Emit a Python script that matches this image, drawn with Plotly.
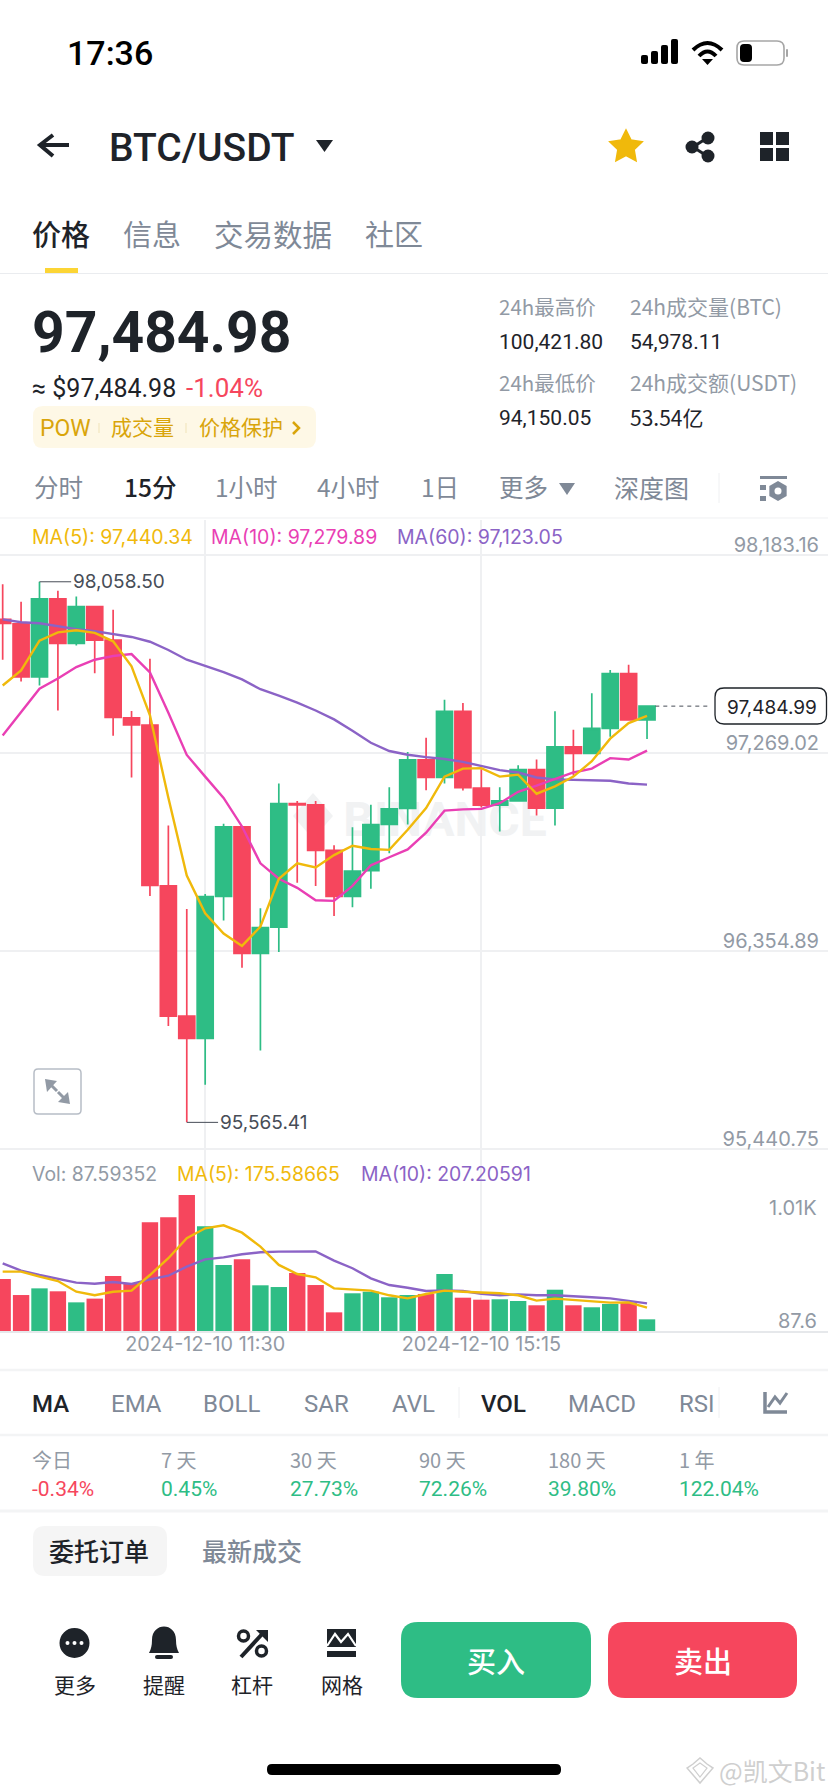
import math
import plotly.graph_objects as go

# ---------- data ----------
candle_index = list(range(36))
opens = [97885,97865,97620,97980,97774,97944,97789,97431,97397,96656,96055,95953,96607,96928,96345,96466,
         97035,97030,96820,96607,96726,96939,97013,97237,97156,97461,97107,97028,97048,97192,97015,97297,
         97267,97382,97635,97422]
highs = [98047,97966,98058.5,98017,97991,97944,97929,97463,97703,96934,96549,96619,96943,96928,96553,97128,
         97047,97047,96843,96926,97030,97111,97273,97339,97514,97499,97194,97111,97212,97239,97461,97376,
         97544,97652,97676,97484.99]
lows = [97699,97599,97580,97465,97765,97637,97348,97156,96609,96010,95565.41,95739,96496,96279,95897,96351,
        96670,96656,96517,96558,96643,96807,96939,97097,97128,97096,97018,96907,97048,96981,96935,97165,
        97267,97344,97422,97333]
closes = [97866,97620,97980,97774,97944,97789,97433,97399,96658,96055,95953,96607,96928,96345,96464,97035,
          97030,96820,96607,96724,96939,97011,97237,97156,97461,97109,97028,97048,97192,97015,97297,97267,
          97382,97635,97422,97484.99]
ma5 = [97580,97650,97787,97825,97835,97823,97784,97669,97442,97062,96704,96530,96436,96379,96468,96689,
       96760,96741,96798,96841,96826,96822,96915,97015,97160,97197,97199,97160,97169,97081,97115,97160,
       97231,97335,97407,97440.34]
ma10 = [97350,97458,97565,97612,97665,97699,97716,97725,97640,97454,97260,97160,97062,96930,96760,96689,
        96647,96590,96587,96656,96751,96788,96824,96901,97003,97009,97011,97037,97090,97118,97147,97179,
        97197,97245,97239,97279.89]
ma60 = [97885,97872,97867,97853,97840,97831,97816,97804,97782,97744,97699,97672,97642,97608,97563,97533,
        97501,97465,97424,97371,97316,97278,97261,97250,97241,97228,97209,97190,97179,97156,97147,97145,
        97145,97141,97128,97123.05]
volumes = [390,270,320,298,215,243,413,358,816,854,1021,786,496,538,343,330,436,345,140,283,295,253,270,278,
           428,250,235,238,225,193,310,193,178,203,213,87.59]
vol_ma5 = [446,446,408,375,295,268,295,303,420,546,696,771,793,738,633,496,428,403,320,310,303,268,245,278,
           303,295,288,283,268,228,243,233,218,213,215,175.59]
vol_ma10 = [508,453,420,393,363,355,368,353,388,415,483,538,553,576,591,596,598,598,528,471,395,345,325,300,
            305,300,280,268,275,268,268,263,253,245,225,207.21]

price_ticks = [98183.16, 97269.02, 96354.89, 95440.75]
price_tick_labels = ["98,183.16", "97,269.02", "96,354.89", "95,440.75"]
time_tick_index = [11, 26]
time_tick_labels = ["2024-12-10 11:30", "2024-12-10 15:15"]

# ---------- styling ----------
W, H = 828, 1792
GREEN, RED = "#2EBD85", "#F6465D"
YEL, PINK, PURP = "#F0B90B", "#E93FB4", "#8B63C6"
DARK, GRAY, GRAY2 = "#1E2329", "#929AA5", "#7F8997"
RULE = "#EFF0F2"
NUM = "Roboto"
CJK = "Noto Sans CJK SC"
CHART = "Inter"


def X(x):
    return x / W


def Y(y):
    return 1 - y / H


shapes, notes = [], []


def text(x, y, s, size, color=DARK, anchor="left", family=NUM, weight=400, vanchor="middle"):
    if anchor == "left":
        x -= 2
    if family == CJK:
        y -= 2
    notes.append(dict(x=X(x), y=Y(y), xref="paper", yref="paper", text=s, showarrow=False,
                      xanchor=anchor, yanchor=vanchor, borderpad=0,
                      font=dict(size=size, color=color, family=family, weight=weight)))


def path(points, fill=None, line=None, lw=0, close=True, layer="above"):
    d = "M" + " L".join(f"{X(a):.5f},{Y(b):.5f}" for a, b in points) + (" Z" if close else "")
    shapes.append(dict(type="path", path=d, xref="paper", yref="paper", layer=layer,
                       fillcolor=fill or "rgba(0,0,0,0)",
                       line=dict(color=line or "rgba(0,0,0,0)", width=lw)))


def seg(x0, y0, x1, y1, color, lw):
    path([(x0, y0), (x1, y1)], None, color, lw, close=False)


def qcurve(a, c, b, color, lw):
    d = f"M{X(a[0]):.5f},{Y(a[1]):.5f} Q{X(c[0]):.5f},{Y(c[1]):.5f} {X(b[0]):.5f},{Y(b[1]):.5f}"
    shapes.append(dict(type="path", path=d, xref="paper", yref="paper", line=dict(color=color, width=lw)))


def rrect(x0, y0, x1, y1, r=0, fill=None, line=None, lw=0):
    a = lambda x, y: f"{X(x):.5f},{Y(y):.5f}"
    d = (f"M{a(x0+r,y0)} L{a(x1-r,y0)} Q{a(x1,y0)} {a(x1,y0+r)} L{a(x1,y1-r)} Q{a(x1,y1)} {a(x1-r,y1)} "
         f"L{a(x0+r,y1)} Q{a(x0,y1)} {a(x0,y1-r)} L{a(x0,y0+r)} Q{a(x0,y0)} {a(x0+r,y0)} Z")
    shapes.append(dict(type="path", path=d, xref="paper", yref="paper",
                       fillcolor=fill or "rgba(0,0,0,0)",
                       line=dict(color=line or "rgba(0,0,0,0)", width=lw)))


def circle(cx, cy, r, fill=None, line=None, lw=0):
    shapes.append(dict(type="circle", xref="paper", yref="paper", x0=X(cx - r), x1=X(cx + r),
                       y0=Y(cy + r), y1=Y(cy - r), fillcolor=fill or "rgba(0,0,0,0)",
                       line=dict(color=line or "rgba(0,0,0,0)", width=lw)))


# status bar
text(68, 53, "17:36", 34, "#000000", weight=500)
for bx, bh in zip((641, 651, 661, 671), (9, 13, 19, 25)):
    rrect(bx, 64 - bh, bx + 7, 64, 2, "#000000")
qcurve((693, 50), (707.5, 36), (722, 50), "#000000", 4)
qcurve((699, 56), (707.5, 47), (716, 56), "#000000", 4)
path([(702, 59), (713, 59), (707.5, 65)], "#000000")
rrect(737, 41, 784, 65, 7, None, "#A6A6A6", 1.6)
rrect(740, 44, 752, 62, 4, "#000000")
rrect(786, 49, 788, 57, 1, "#A6A6A6")

# navigation row
seg(40, 145, 69, 145, DARK, 4)
path([(53, 135), (40, 145), (53, 156)], None, DARK, 4, close=False)
text(110, 148, "BTC/USDT", 39, DARK, weight=500)
path([(316, 140), (333, 140), (324.5, 152)], DARK)
star = []
for k in range(10):
    rad = 16 if k % 2 == 0 else 8
    ang = -math.pi / 2 + k * math.pi / 5
    star.append((626 + rad * math.cos(ang), 147 + rad * math.sin(ang)))
path(star, YEL, YEL, 2.5)
seg(707, 138, 693, 147, DARK, 3)
seg(693, 147, 707, 156, DARK, 3)
for cx, cy in ((708, 138), (692, 147), (708, 156)):
    circle(cx, cy, 6.5, DARK)
for gx, gy in ((760, 132), (776, 132), (760, 148), (776, 148)):
    rrect(gx, gy, gx + 13, gy + 13, 0, DARK)

# section tabs
text(33, 235, "价格", 29, DARK, family=CJK, weight=500)
text(124, 235, "信息", 29, GRAY2, family=CJK)
text(215, 235, "交易数据", 29.5, GRAY2, family=CJK)
text(366, 235, "社区", 29, GRAY2, family=CJK)
rrect(45, 268, 78, 273, 0, "#FCD535")
seg(0, 273.5, W, 273.5, "#EAECEF", 1)

# price block
text(33, 332, "97,484.98", 57, DARK, weight=700)
text(33, 388, "≈ $97,484.98", 25, DARK)
text(187, 388, "-1.04%", 26, RED)
rrect(33, 406, 316, 448, 10, "#FEF8E6")
text(41, 428, "POW", 23, "#D9A50B")
seg(99, 423, 99, 433, "#F0E3B8", 1)
text(112, 428, "成交量", 21, "#D9A50B", family=CJK)
seg(186, 423, 186, 433, "#F0E3B8", 1)
text(200, 428, "价格保护", 21, "#D9A50B", family=CJK)
path([(293, 422), (299, 428), (293, 434)], None, "#D9A50B", 2.5, close=False)
text(500, 308, "24h最高价", 20.5, GRAY, family=CJK)
text(631, 308, "24h成交量(BTC)", 21, GRAY, family=CJK)
text(500, 342, "100,421.80", 21, DARK)
text(631, 342, "54,978.11", 21, DARK)
text(500, 384, "24h最低价", 20.5, GRAY, family=CJK)
text(631, 384, "24h成交额(USDT)", 21, GRAY, family=CJK)
text(500, 418, "94,150.05", 21, DARK)
text(631, 419, "53.54亿", 21, DARK, family=CJK)

# interval row
text(35, 489, "分时", 24.5, GRAY2, family=CJK)
text(125, 489, "15分", 24.5, DARK, family=CJK, weight=500)
text(216, 489, "1小时", 24.5, GRAY2, family=CJK)
text(318, 489, "4小时", 24.5, GRAY2, family=CJK)
text(422, 489, "1日", 24.5, GRAY2, family=CJK)
text(500, 489, "更多", 24.5, GRAY2, family=CJK)
path([(559, 483), (575, 483), (567, 495)], GRAY2)
text(615, 489, "深度图", 25, GRAY2, family=CJK)
seg(719, 473, 719, 503, RULE, 1)
rrect(760, 476, 787, 479, 0, GRAY2)
rrect(760, 485, 766, 490, 0, GRAY2)
rrect(760, 496, 766, 501, 0, GRAY2)
hexa = [(778 + 10 * math.cos(math.pi / 6 + k * math.pi / 3), 491 + 10 * math.sin(math.pi / 6 + k * math.pi / 3))
        for k in range(6)]
path(hexa, GRAY2)
circle(778, 491, 3.5, "#FFFFFF")
seg(0, 518, W, 518, RULE, 1)

# chart legends
text(33, 537, "MA(5): 97,440.34", 19.5, YEL, family=CHART)
text(212, 537, "MA(10): 97,279.89", 19.5, PINK, family=CHART)
text(398, 537, "MA(60): 97,123.05", 19.5, PURP, family=CHART)
text(33, 1174, "Vol: 87.59352", 19.4, GRAY, family=CHART)
text(178, 1174, "MA(5): 175.58665", 19.4, YEL, family=CHART)
text(362, 1174, "MA(10): 207.20591", 19.4, PURP, family=CHART)

# watermark (under the candles)
path([(313, 793), (333, 816), (313, 839), (293, 816)], "#F1F2F3", layer="below")
shapes.append(dict(type="rect", xref="paper", yref="paper", x0=X(340), x1=X(550), y0=Y(838), y1=Y(794),
                   layer="below", line=dict(width=0), fillcolor="rgba(0,0,0,0)",
                   label=dict(text="<b>BINANCE</b>", textposition="middle center",
                              font=dict(size=48, color="#F1F2F3", family=NUM))))

# expand button
rrect(34, 1069, 81, 1114, 4, "#FFFFFF", "#B7BDC6", 1.5)
path([(45, 1079), (57, 1081), (47, 1092)], "#929AA5")
seg(50, 1084, 57, 1091, "#929AA5", 3)
path([(70, 1104), (58, 1102), (68, 1092)], "#929AA5")
seg(65, 1099, 58, 1092, "#929AA5", 3)

# min / max markers
shapes.append(dict(type="line", xref="x", yref="y", x0=2, x1=3.72, y0=highs[2], y1=highs[2],
                   line=dict(color="#474D57", width=1)))
notes.append(dict(x=3.75, y=highs[2], xref="x", yref="y", text="98,058.50", showarrow=False, xanchor="left",
                  yanchor="middle", borderpad=0, font=dict(size=19, color="#474D57", family=CHART)))
shapes.append(dict(type="line", xref="x", yref="y", x0=10, x1=11.7, y0=lows[10], y1=lows[10],
                   line=dict(color="#474D57", width=1)))
notes.append(dict(x=11.75, y=lows[10], xref="x", yref="y", text="95,565.41", showarrow=False, xanchor="left",
                  yanchor="middle", borderpad=0, font=dict(size=19, color="#474D57", family=CHART)))

# last price marker
shapes.append(dict(type="line", xref="x", yref="y", x0=35.45, x1=38.47, y0=closes[-1], y1=closes[-1],
                   line=dict(color="#474D57", width=1, dash="4px,4px")))
rrect(715, 688, 826.5, 724, 9, "#FFFFFF", DARK, 1.3)
text(771.5, 707, "97,484.99", 19, DARK, anchor="center", family=CHART)

# volume-axis labels
notes.append(dict(x=X(818), y=1010, xref="paper", yref="y2", yshift=-12, text="1.01K", showarrow=False,
                  xanchor="right", yanchor="middle", borderpad=0,
                  font=dict(size=20, color=GRAY, family=CHART)))
notes.append(dict(x=X(818), y=87.6, xref="paper", yref="y2", yshift=-2, text="87.6", showarrow=False,
                  xanchor="right", yanchor="middle", borderpad=0,
                  font=dict(size=20, color=GRAY, family=CHART)))

# indicator row
seg(0, 1370, W, 1370, "#F3F4F5", 2.5)
for s, x, c, w in (("MA", 33, DARK, 500), ("EMA", 112, GRAY2, 400), ("BOLL", 204, GRAY2, 400),
                   ("SAR", 305, GRAY2, 400), ("AVL", 393, GRAY2, 400), ("VOL", 482, DARK, 500),
                   ("MACD", 569, GRAY2, 400), ("RSI", 680, GRAY2, 400)):
    text(x, 1404, s, 24, c, weight=w)
seg(459, 1387, 459, 1418, RULE, 1)
seg(719, 1387, 719, 1418, RULE, 1)
path([(765, 1392), (765, 1412), (787, 1412)], None, GRAY2, 3.5, close=False)
path([(768, 1407), (775, 1397), (780, 1403), (787, 1393)], None, GRAY2, 3, close=False)
seg(0, 1435, W, 1435, "#F3F4F5", 2.5)

# period returns
period_x = [33, 162, 291, 420, 549, 680]
period_labels = ["今日", "7 天", "30 天", "90 天", "180 天", "1 年"]
period_vals = ["-0.34%", "0.45%", "27.73%", "72.26%", "39.80%", "122.04%"]
for x, lb, v in zip(period_x, period_labels, period_vals):
    text(x, 1461, lb, 20, GRAY, family=CJK)
    text(x, 1489, v, 21, RED if v.startswith("-") else GREEN)
seg(0, 1511, W, 1511, "#F3F4F5", 3)

# order tabs
rrect(33, 1526, 167, 1576, 12, "#F5F5F5")
text(50, 1552, "委托订单", 25, DARK, family=CJK, weight=500)
text(203, 1552, "最新成交", 25, GRAY2, family=CJK, weight=500)

# toolbar
circle(74.5, 1643, 15, DARK)
for dx in (-7, 0, 7):
    circle(74.5 + dx, 1643, 2, "#FFFFFF")
a = lambda x, y: f"{X(x):.5f},{Y(y):.5f}"
shapes.append(dict(type="path", xref="paper", yref="paper", fillcolor=DARK, line=dict(width=0),
                   path=(f"M{a(149,1653)} Q{a(152,1648)} {a(152,1640)} C{a(152,1622)} {a(176,1622)} {a(176,1640)} "
                         f"Q{a(176,1648)} {a(179,1653)} Z")))
rrect(155, 1655, 173, 1659, 2, DARK)
rrect(158, 1655, 170, 1659, 2, DARK)
circle(243.5, 1636, 5, None, DARK, 3.5)
circle(261.5, 1651, 5, None, DARK, 3.5)
seg(241, 1657, 264, 1632, DARK, 4)
path([(256, 1630), (268, 1630), (268, 1642)], DARK)
path([(327, 1629), (356, 1629), (356, 1647), (327, 1647)], DARK)
path([(327, 1646), (335, 1634), (341, 1642), (348, 1634), (356, 1646)], None, "#FFFFFF", 2.2, close=False)
rrect(327, 1651, 356, 1657, 0, DARK)
for s, cx in (("更多", 74.5), ("提醒", 163.5), ("杠杆", 252), ("网格", 342)):
    text(cx, 1686, s, 21, DARK, anchor="center", family=CJK)
rrect(401, 1622, 591, 1698, 17, GREEN)
rrect(608, 1622, 797, 1698, 17, RED)
text(496, 1662, "买入", 29, "#FFFFFF", anchor="center", family=CJK, weight=500)
text(703, 1662, "卖出", 29, "#FFFFFF", anchor="center", family=CJK, weight=500)

# home indicator and corner mark
rrect(267, 1764, 561, 1775, 5, "#000000")
path([(687, 1768), (693, 1764), (700, 1758), (707, 1764), (713, 1768), (700, 1783)], None, "#CFCFCF", 1.5)
path([(693, 1768), (700, 1763), (707, 1768), (700, 1777)], None, "#CFCFCF", 1.2)
text(720, 1772, "@凯文Bit", 25, "#CFCFCF", family=CJK)

# ---------- traces ----------
fig = go.Figure()
fig.add_trace(go.Candlestick(x=candle_index, open=opens, high=highs, low=lows, close=closes,
                             increasing=dict(line=dict(color=GREEN, width=1.7), fillcolor=GREEN),
                             decreasing=dict(line=dict(color=RED, width=1.7), fillcolor=RED),
                             whiskerwidth=0, xaxis="x", yaxis="y", showlegend=False, hoverinfo="skip"))
for vals, col in ((ma60, PURP), (ma10, PINK), (ma5, YEL)):
    fig.add_trace(go.Scatter(x=candle_index, y=vals, mode="lines", line=dict(color=col, width=2.4),
                             xaxis="x", yaxis="y", showlegend=False, hoverinfo="skip"))
vol_colors = [GREEN if c >= o else RED for o, c in zip(opens, closes)]
fig.add_trace(go.Bar(x=candle_index, y=volumes, marker=dict(color=vol_colors, line=dict(width=0)),
                     xaxis="x2", yaxis="y2", showlegend=False, hoverinfo="skip"))
for vals, col in ((vol_ma10, PURP), (vol_ma5, YEL)):
    fig.add_trace(go.Scatter(x=candle_index, y=vals, mode="lines", line=dict(color=col, width=2.4),
                             xaxis="x2", yaxis="y2", showlegend=False, hoverinfo="skip"))

x_range = [-0.145, 44.83]
common_x = dict(range=x_range, tickmode="array", tickvals=time_tick_index, showgrid=True, gridcolor=RULE,
                gridwidth=1.5, zeroline=False, ticks="", fixedrange=True)
fig.update_layout(
    width=W, height=H, autosize=False, margin=dict(l=0, r=0, t=0, b=0, pad=0),
    paper_bgcolor="#FFFFFF", plot_bgcolor="rgba(0,0,0,0)", hovermode=False, dragmode=False,
    showlegend=False, bargap=0.11, boxgap=0.13, boxgroupgap=0, boxmode="overlay",
    font=dict(family=CHART, color=GRAY),
    xaxis=dict(domain=[0, 1], anchor="y", showticklabels=False, rangeslider=dict(visible=False), **common_x),
    xaxis2=dict(domain=[0, 1], anchor="y2", ticktext=time_tick_labels, showticklabels=True,
                ticklabelstandoff=-6, tickfont=dict(size=19.8, color=GRAY, family=CHART),
                showline=True, linecolor="#E6E8EB", linewidth=2, **common_x),
    yaxis=dict(domain=[Y(1162), Y(520)], range=[95382.6, 98343.4], side="right", anchor="x",
               tickmode="array", tickvals=price_ticks, ticktext=price_tick_labels,
               ticklabelposition="inside", ticklabelshift=-10, ticklabelstandoff=6,
               tickfont=dict(size=20, color=GRAY, family=CHART), showgrid=True, gridcolor=RULE, gridwidth=1.5,
               zeroline=False, ticks="", fixedrange=True),
    yaxis2=dict(domain=[Y(1331), Y(1149.4)], range=[0, 1363], anchor="x2", showticklabels=False, showgrid=False,
                zeroline=False, ticks="", fixedrange=True),
    shapes=shapes, annotations=notes,
)
fig.write_html("out.html", config=dict(displayModeBar=False, responsive=False),
               post_script="document.body.style.margin='0';")
